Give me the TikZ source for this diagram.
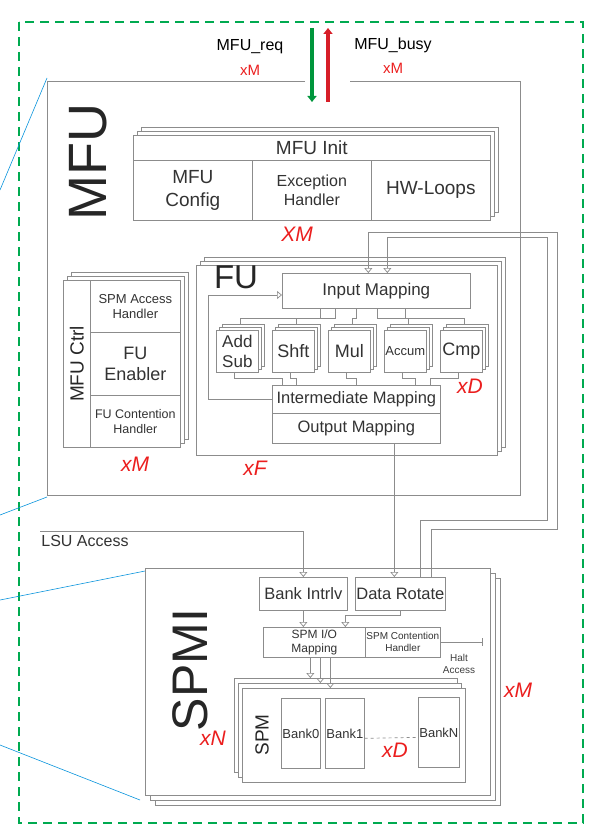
\documentclass[tikz,border=0pt]{standalone}
\usepackage{fontspec}
\setmainfont{Liberation Sans}
\usetikzlibrary{arrows.meta,positioning}
\definecolor{frameGreen}{RGB}{0,170,80}
\definecolor{reqGreen}{RGB}{0,150,60}
\definecolor{busyRed}{RGB}{215,30,40}
\definecolor{tagRed}{RGB}{235,30,30}
\newcommand{\fs}[1]{\fontsize{#1pt}{\dimexpr #1pt*6/5\relax}\selectfont}

\begin{document}
\begin{tikzpicture}[
  x=1pt, y=-1pt,
  line/.style={draw=black!45, line width=0.7pt},
  box/.style={line, fill=white, align=center, inner sep=1pt, anchor=north west, text=black!80},
  frame/.style={line, fill=white},
  big/.style={rotate=90, text=black!85},
  tag/.style={text=tagRed, font=\itshape\fs{21}},
  count/.style={text=tagRed, font=\fs{15}},
  link/.style={line, -{Triangle[open,width=8pt,length=5pt]}},
  zoomline/.style={draw=cyan!80!blue, line width=0.6pt}
]
\useasboundingbox (0,0) rectangle (602,840);

% outer frame and zoom lines
\draw[draw=frameGreen, line width=2pt, dash pattern=on 9pt off 6pt] (19,22) rectangle (583,823);
\draw[zoomline] (47,78) -- (0,190);
\draw[zoomline] (47,497) -- (0,515);
\draw[zoomline] (145,571) -- (0,600);
\draw[zoomline] (140,800) -- (0,745);

% MFU
\draw[line] (305,81) -- (47,81) -- (47,495) -- (520,495) -- (520,81) -- (350,81);
\node[big, font=\fs{54}] (mfu) at (88,162) {MFU};
\coordinate (reqtop) at (312,28);
\coordinate (busytop) at (328,28);
\draw[reqGreen, line width=3.5pt, -{Triangle[length=6pt,width=9pt]}] (reqtop) -- ++(0,74);
\draw[busyRed, line width=3.5pt, -{Triangle[length=6pt,width=9pt]}] (busytop) ++(0,74) -- (busytop);
\node[font=\fs{16}] (req) at (250,47) {MFU\_req};
\node[count] (reqn) at (250,70) {xM};
\node[font=\fs{16}] (busy) at (393,45) {MFU\_busy};
\node[count] (busyn) at (393,68) {xM};

% MFU Init
\foreach \d in {8,4}
  \draw[frame] ({133+\d},{135-\d}) rectangle ++(357,85);
\node[box, minimum width=357pt, minimum height=25pt, font=\fs{19}] (init) at (133,135) {MFU Init};
\node[box, minimum width=119pt, minimum height=60pt, font=\fs{19}] (cfg) at (133,160) {MFU\\Config};
\node[box, minimum width=119pt, minimum height=60pt, font=\fs{16}] (exc) at (252,160) {Exception\\Handler};
\node[box, minimum width=119pt, minimum height=60pt, font=\fs{19}] (hwl) at (371,160) {HW-Loops};
\node[tag] (xmi) at (297,234) {XM};

% MFU Ctrl
\foreach \d in {8,4}
  \draw[frame] ({63+\d},{280-\d}) rectangle ++(117,167);
\node[box, minimum width=27pt, minimum height=167pt] (ctrl) at (63,280) {};
\node[big, font=\fs{19}] at (ctrl.center) {MFU Ctrl};
\node[box, minimum width=90pt, minimum height=52pt, font=\fs{13}] (spmacc) at (90,280) {SPM Access\\Handler};
\node[box, minimum width=90pt, minimum height=63pt, font=\fs{18}] (fuen) at (90,332) {FU\\Enabler};
\node[box, minimum width=90pt, minimum height=52pt, font=\fs{12.5}] (fucont) at (90,395) {FU Contention\\Handler};
\node[tag] (xmc) at (135,464) {xM};

% FU
\foreach \d in {8,4}
  \draw[frame] ({196+\d},{265-\d}) rectangle ++(301,190);
\node[box, minimum width=301pt, minimum height=190pt] (fu) at (196,265) {};
\node[font=\fs{33}, text=black!85] (fulabel) at (236,277) {FU};
\node[box, minimum width=188pt, minimum height=35pt, font=\fs{17}] (inmap) at (282,273) {Input Mapping};
\foreach \name/\x/\txt/\f in {add/216/{Add\\Sub}/17, shft/272/Shft/18, mul/328/Mul/18, accum/384/Accum/13, cmp/440/Cmp/18} {
  \foreach \d in {6,3}
    \draw[frame] ({\x+\d},{330-\d}) rectangle ++(42,42);
  \node[box, minimum width=42pt, minimum height=42pt, font=\fs{\f}] (\name) at (\x,330) {\txt};
}
\foreach \name/\a in {add/320, shft/335, mul/356, accum/377, cmp/405}
  \draw[line] (\a,308) -- (\a,318) -| ([xshift=3pt]\name.north |- 0,324);
\foreach \name/\b in {add/282, shft/296, mul/356, accum/415, cmp/430}
  \draw[line] ([xshift=-3pt]\name.south) -- ++(0,6) -| (\b,385);
\node[box, minimum width=168pt, minimum height=28pt, font=\fs{16.5}] (inter) at (272,385) {Intermediate Mapping};
\node[box, minimum width=168pt, minimum height=30pt, font=\fs{16.5}] (outmap) at (272,413) {Output Mapping};
\coordinate (fb) at (208,295);
\draw[link] (inter.west) -| (fb) -- (fb -| inmap.west);
\node[tag] (xdf) at (470,386) {xD};
\node[tag] (xf) at (255,468) {xF};

% SPMI
\foreach \d in {10,5}
  \draw[frame] ({145+\d},{568+\d}) rectangle ++(345,227);
\node[box, minimum width=345pt, minimum height=227pt] (spmi) at (145,568) {};
\node[big, font=\fs{50}] (spmilabel) at (190,670) {SPMI};
\node[font=\fs{16}, text=black!80] (lsu) at (85,541) {LSU Access};
\node[box, minimum width=88pt, minimum height=33pt, font=\fs{16.5}] (bi) at (259,577) {Bank Intrlv};
\node[box, minimum width=87pt, minimum height=33pt, font=\fs{16.5}] (dr) at (355,577) {Data Rotate};
\node[box, minimum width=102pt, minimum height=30pt, font=\fs{12}] (iomap) at (263,627) {SPM I/O\\Mapping};
\node[box, minimum width=75pt, minimum height=30pt, font=\fs{10}] (cont) at (365,627) {SPM Contention\\Handler};
\coordinate (lsuin) at (40,531);
\draw[link] (lsuin) -| (bi.north);
\draw[link] ([xshift=38pt]outmap.south) -- ([xshift=38pt]outmap.south |- dr.north);
\draw[link] ([xshift=20pt]dr.north) -- ++(0,-57) -| (547,237) -| ([xshift=11pt]inmap.north);
\draw[link] ([xshift=31pt]dr.north) -- ++(0,-48) -| (557,232) -| ([xshift=-8pt]inmap.north);
\draw[link] (bi.south) -- (bi.south |- iomap.north);
\draw[link] (dr.south) -- ++(0,5) -| ([xshift=31pt]iomap.north);
\draw[line, -{Bar[width=8pt]}] (cont.east) -- ++(42,0);
\node[font=\fs{10}, text=black!75, align=center] (halt) at (459,664) {Halt\\Access};

% SPM
\foreach \dx/\dy in {-8/-10, -4/-5}
  \draw[frame] ({242+\dx},{688+\dy}) rectangle ++(223,94);
\node[box, minimum width=223pt, minimum height=94pt] (spm) at (242,688) {};
\foreach \dx/\ey in {-4/678, 6/683, 16/688}
  \draw[link] ([xshift=\dx pt]iomap.south) -- ([xshift=\dx pt]iomap.south |- 0,\ey);
\node[big, font=\fs{19}] (spmlabel) at (262,735) {SPM};
\node[box, minimum width=39pt, minimum height=70pt, font=\fs{13}] (bank0) at (281,698) {Bank0};
\node[box, minimum width=39pt, minimum height=70pt, font=\fs{13}] (bank1) at (325,698) {Bank1};
\node[box, minimum width=40pt, minimum height=70pt, font=\fs{13}] (bankn) at (418,697) {BankN};
\draw[line, dashed] ([yshift=-5pt]bank1.east) -- ([yshift=-5pt]bankn.west);
\node[tag] (xds) at (395,750) {xD};
\node[tag] (xn) at (213,738) {xN};
\node[tag] (xms) at (518,690) {xM};
\end{tikzpicture}
\end{document}
